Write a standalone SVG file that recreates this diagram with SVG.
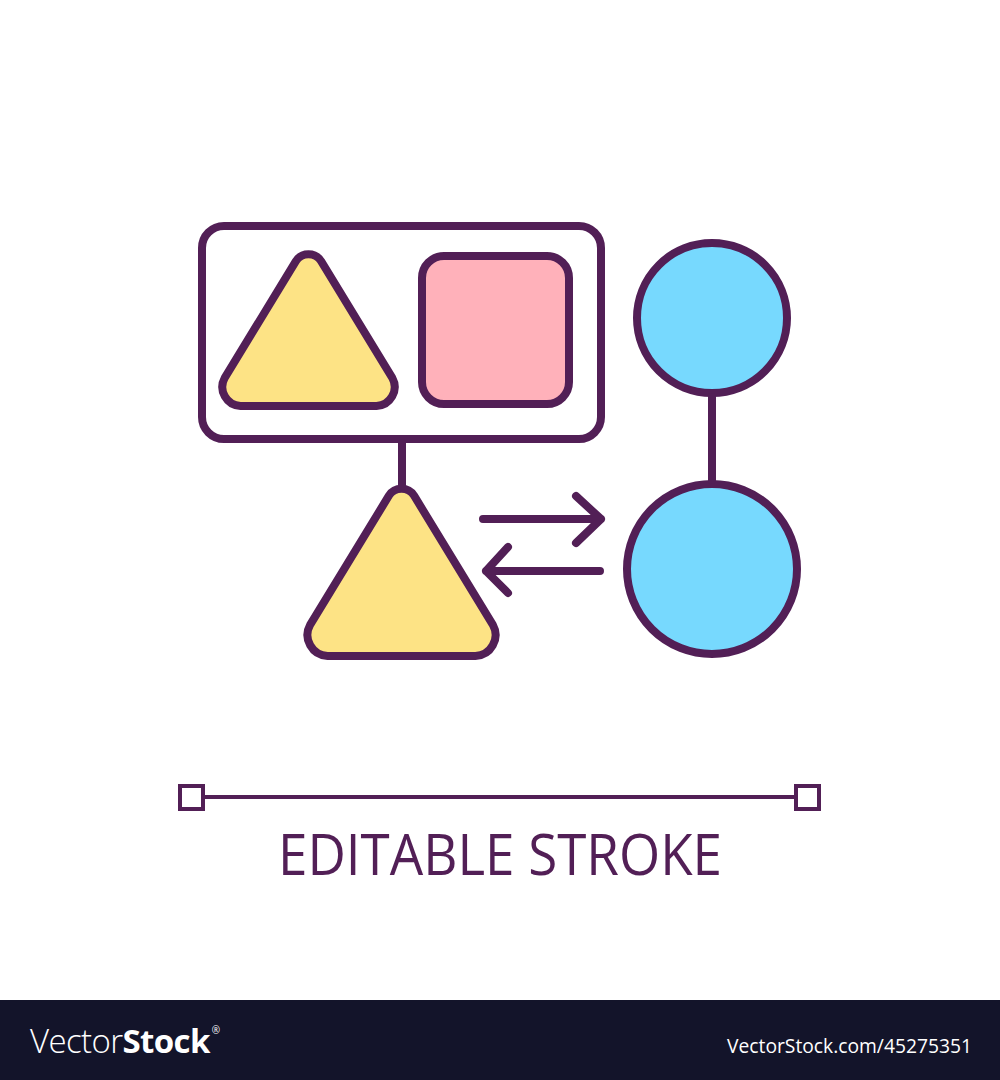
<svg xmlns="http://www.w3.org/2000/svg" width="1000" height="1080" viewBox="0 0 1000 1080">
  <style>
    .s { stroke: #521f56; stroke-width: 8; stroke-linejoin: round; stroke-linecap: round; }
    .thin { stroke: #521f56; stroke-width: 4; fill: none; }
    .yellow { fill: #fde385; }
    .pink { fill: #ffb1ba; }
    .blue { fill: #77d9fe; }
  </style>
  <rect x="0" y="0" width="1000" height="1080" fill="#ffffff"/>

  <g id="container">
    <rect class="s" x="202" y="226" width="399" height="213" rx="22" fill="none"/>
  </g>
  <g id="triangle-top">
    <path class="s yellow" d="M295.9,261.1 A15,15 0 0 1 321.1,261.1 L392.3,377.9 A19,19 0 0 1 376.5,406 L240.5,406 A19,19 0 0 1 224.7,377.9 Z"/>
  </g>
  <g id="square">
    <rect class="s pink" x="422" y="256" width="147" height="148" rx="22"/>
  </g>
  <g id="circle-top">
    <circle class="s blue" cx="712" cy="318" r="75"/>
  </g>
  <g id="circle-bottom">
    <circle class="s blue" cx="712" cy="569" r="85"/>
  </g>
  <g id="triangle-bottom">
    <path class="s yellow" d="M388.9,495.7 A15,15 0 0 1 414.1,495.7 L492.9,624.9 A21,21 0 0 1 475.4,656 L327.6,656 A21,21 0 0 1 310.1,624.9 Z"/>
  </g>

  <g id="connectors" fill="none">
    <line class="s" x1="402" y1="443" x2="402" y2="486"/>
    <line class="s" x1="712" y1="397" x2="712" y2="480"/>
    <path class="s" d="M483,519 L601,519 M576,496 L601,519 L576,543"/>
    <path class="s" d="M600,571 L486,571 M508,547 L486,571 L508,593"/>
  </g>

  <g id="editable-stroke">
    <line class="thin" x1="203" y1="797" x2="796" y2="797"/>
    <rect class="thin" x="180" y="786" width="23" height="23"/>
    <rect class="thin" x="796" y="786" width="23" height="23"/>
    <text x="278" y="875" textLength="444" lengthAdjust="spacingAndGlyphs" font-family="'Open Sans', 'Liberation Sans', sans-serif" font-size="56" fill="#521f56">EDITABLE STROKE</text>
  </g>

  <g id="footer">
    <rect x="0" y="1000" width="1000" height="80" fill="#13142a"/>
    <text x="30" y="1053" font-family="'Open Sans', 'Liberation Sans', sans-serif" font-size="33" letter-spacing="-0.6" fill="#ffffff"><tspan font-weight="300">Vector</tspan><tspan font-weight="700">Stock</tspan><tspan font-size="10" dx="2" dy="-19">®</tspan></text>
    <text x="972" y="1053" text-anchor="end" textLength="245" lengthAdjust="spacingAndGlyphs" font-family="'Open Sans', 'Liberation Sans', sans-serif" font-size="20" fill="#ffffff">VectorStock.com/45275351</text>
  </g>
</svg>
